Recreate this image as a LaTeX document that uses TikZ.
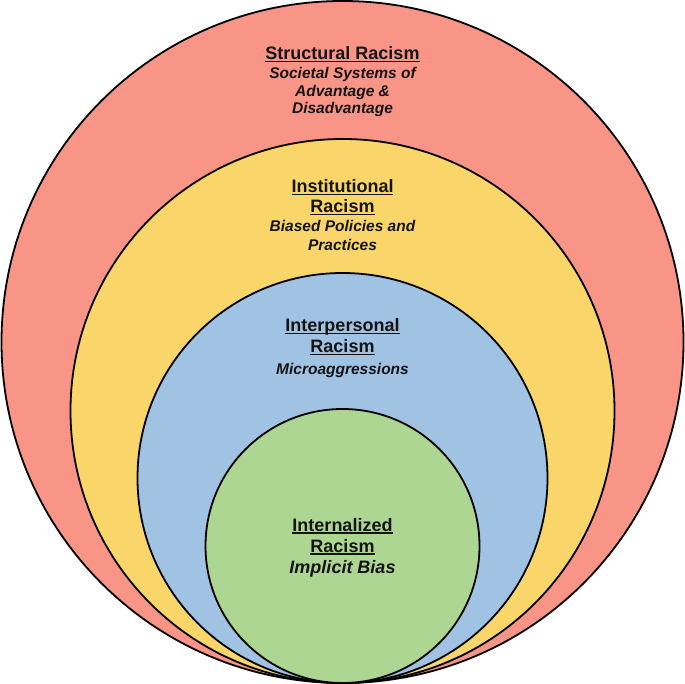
\documentclass[tikz,border=0pt]{standalone}
\usepackage{fontspec}
\setmainfont{Liberation Sans}
\definecolor{cRed}{RGB}{249,149,134}
\definecolor{cYellow}{RGB}{250,214,106}
\definecolor{cBlue}{RGB}{160,194,227}
\definecolor{cGreen}{RGB}{173,214,146}
\definecolor{cText}{RGB}{20,20,20}
\newcommand{\ulx}[1]{\setbox0\hbox{#1}\rlap{\rule[-2.5pt]{\wd0}{1.3pt}}\box0}
\tikzset{
  ring/.style={circle, draw=black, line width=1.8pt, inner sep=0pt},
  ttl/.style={anchor=base, inner sep=0pt, text=cText, font=\fontsize{18}{21}\selectfont\bfseries},
  sub/.style={anchor=base, inner sep=0pt, text=cText, font=\fontsize{15.5}{18}\selectfont\bfseries\itshape},
  subbig/.style={anchor=base, inner sep=0pt, text=cText, font=\fontsize{18}{21}\selectfont\bfseries\itshape}
}
\begin{document}
\begin{tikzpicture}[x=1pt,y=-1pt]
\useasboundingbox (0,0) rectangle (685,684);
\node[ring, fill=cRed, minimum size=682pt] (outer) at (342.5,342) {};
\node[ring, fill=cYellow, minimum size=544pt] (inst) at (342.5,411) {};
\node[ring, fill=cBlue, minimum size=410pt] (inter) at (342.5,478) {};
\node[ring, fill=cGreen, minimum size=274pt] (intern) at (342.5,546) {};
% Structural
\node[ttl] (s1) at (342.5,59.5) {\ulx{Structural Racism}};
\node[sub] (s2) at (342.5,78.5) {Societal Systems of};
\node[sub] (s3) at (342.5,96.5) {Advantage \&};
\node[sub] (s4) at (342.5,114) {Disadvantage};
% Institutional
\node[ttl] (i1) at (342.5,192.5) {\ulx{Institutional}};
\node[ttl] (i2) at (342.5,213) {\ulx{Racism}};
\node[sub] (i3) at (342.5,231.5) {Biased Policies and};
\node[sub] (i4) at (342.5,250.5) {Practices};
% Interpersonal
\node[ttl] (p1) at (342.5,332) {\ulx{Interpersonal}};
\node[ttl] (p2) at (342.5,352.7) {\ulx{Racism}};
\node[sub] (p3) at (342.5,374) {Microaggressions};
% Internalized
\node[ttl] (n1) at (342.5,531) {\ulx{Internalized}};
\node[ttl] (n2) at (342.5,552) {\ulx{Racism}};
\node[subbig] (n3) at (342.5,573.3) {Implicit Bias};
\end{tikzpicture}
\end{document}
